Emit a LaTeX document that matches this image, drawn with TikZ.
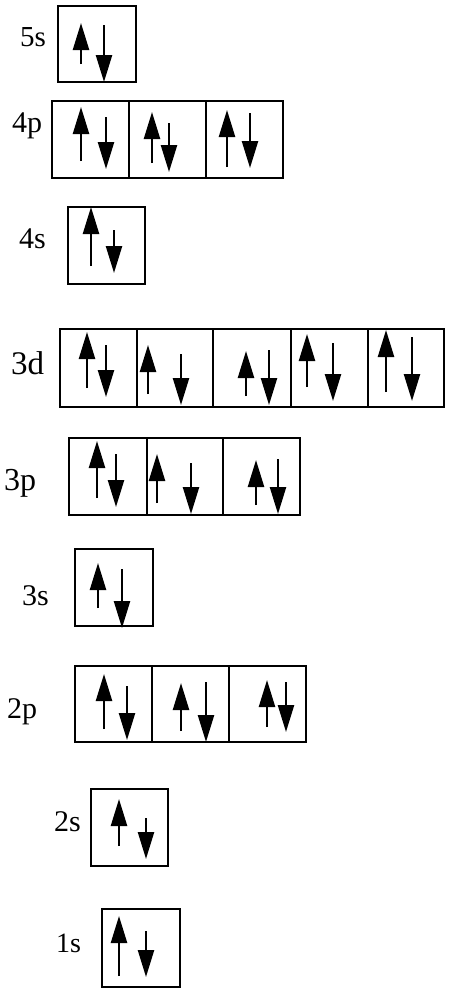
\documentclass[tikz,border=0pt]{standalone}
\usepackage{fontspec}
\setmainfont{Liberation Serif}
\usetikzlibrary{arrows.meta}
\tikzset{
  boxline/.style={line width=2.8pt},
  spin/.style={line width=2.4pt,-{Triangle[length=27pt,width=16pt]}},
  lbl/.style={anchor=base west,inner sep=0pt},
}
\newcommand{\lblsize}[1]{\fontsize{#1}{#1}\selectfont}
\begin{document}
\begin{tikzpicture}[x=1pt,y=-1pt]
\useasboundingbox (0,0) rectangle (450,993);
% labels
\node[lbl] (l5s) at (20,46)  {\lblsize{29}5s};
\node[lbl] (l4p) at (12,132) {\lblsize{30}4p};
\node[lbl] (l4s) at (19,248) {\lblsize{30}4s};
\node[lbl] (l3d) at (11,374) {\lblsize{33}3d};
\node[lbl] (l3p) at (4,490)  {\lblsize{32}3p};
\node[lbl] (l3s) at (22,605) {\lblsize{30}3s};
\node[lbl] (l2p) at (7,718)  {\lblsize{30}2p};
\node[lbl] (l2s) at (54,831) {\lblsize{30}2s};
\node[lbl] (l1s) at (56,952) {\lblsize{28}1s};
% boxes
\draw[boxline] (58,6) rectangle (136,82);
\draw[boxline] (52,101) rectangle (283,178) (129,101) -- (129,178) (206,101) -- (206,178);
\draw[boxline] (68,207) rectangle (145,284);
\draw[boxline] (60,329) rectangle (444,407) (137,329) -- (137,407) (213,329) -- (213,407)
  (291,329) -- (291,407) (368,329) -- (368,407);
\draw[boxline] (69,438) rectangle (300,515) (147,438) -- (147,515) (223,438) -- (223,515);
\draw[boxline] (75,549) rectangle (153,626);
\draw[boxline] (75,666) rectangle (306,742) (152,666) -- (152,742) (229,666) -- (229,742);
\draw[boxline] (91,789) rectangle (168,866);
\draw[boxline] (102,909) rectangle (180,987);
% 5s
\draw[spin] (81,64) -- (81,23);
\draw[spin] (104,25) -- (104,82);
% 4p
\draw[spin] (81,161) -- (81,107);
\draw[spin] (106,117) -- (106,169);
\draw[spin] (152,163) -- (152,112);
\draw[spin] (169,123) -- (169,172);
\draw[spin] (227,167) -- (227,110);
\draw[spin] (250,113) -- (250,168);
% 4s
\draw[spin] (91,266) -- (91,207);
\draw[spin] (114,230) -- (114,273);
% 3d
\draw[spin] (87,388) -- (87,332);
\draw[spin] (106,345) -- (106,397);
\draw[spin] (148,394) -- (148,345);
\draw[spin] (181,354) -- (181,405);
\draw[spin] (246,396) -- (246,351);
\draw[spin] (269,350) -- (269,405);
\draw[spin] (307,387) -- (307,334);
\draw[spin] (333,343) -- (333,401);
\draw[spin] (386,392) -- (386,330);
\draw[spin] (412,337) -- (412,401);
% 3p
\draw[spin] (97,498) -- (97,441);
\draw[spin] (116,454) -- (116,507);
\draw[spin] (157,503) -- (157,454);
\draw[spin] (191,463) -- (191,514);
\draw[spin] (256,505) -- (256,460);
\draw[spin] (278,459) -- (278,514);
% 3s
\draw[spin] (98,608) -- (98,563);
\draw[spin] (122,569) -- (122,628);
% 2p
\draw[spin] (104,729) -- (104,674);
\draw[spin] (127,686) -- (127,740);
\draw[spin] (181,731) -- (181,683);
\draw[spin] (206,682) -- (206,742);
\draw[spin] (267,727) -- (267,680);
\draw[spin] (286,682) -- (286,732);
% 2s
\draw[spin] (119,846) -- (119,799);
\draw[spin] (146,818) -- (146,859);
% 1s
\draw[spin] (119,976) -- (119,916);
\draw[spin] (146,931) -- (146,977);
\end{tikzpicture}
\end{document}
